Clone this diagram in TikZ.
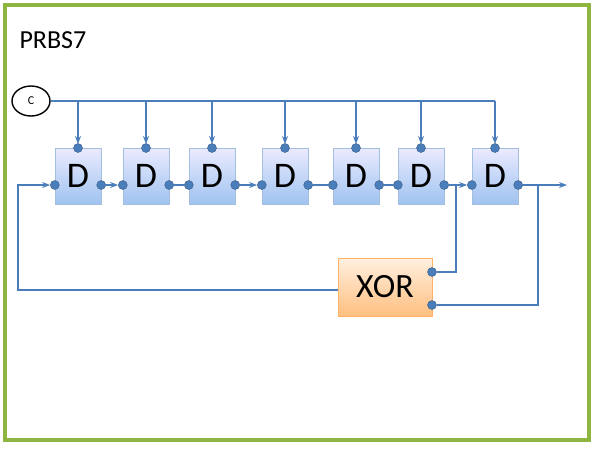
\documentclass[tikz,border=0pt]{standalone}
\usepackage{fontspec}
\setmainfont{Carlito}
\usetikzlibrary{arrows.meta,shapes.geometric}
\definecolor{ln}{HTML}{4A7EBB}
\definecolor{frm}{HTML}{8DB53F}
\begin{document}
\begin{tikzpicture}[x=1pt,y=-1pt,
 dbox/.style={draw=ln!50,top color=blue!8!white,bottom color={rgb,255:red,160;green,195;blue,240},minimum width=46pt,minimum height=56pt,inner sep=0,font=\fontsize{36}{36}\selectfont},
 pin/.style={circle,fill=ln,draw=ln!70!black,inner sep=0,minimum size=9pt},
 wire/.style={draw=ln,line width=2pt},
 arr/.style={wire,-{Stealth[length=8pt]}}]
\useasboundingbox (0,0) rectangle (600,448);
\draw[draw=frm,line width=4pt] (5,5) rectangle (589,440);
\node[font=\fontsize{26}{26}\selectfont,anchor=west] (t) at (16,40) {PRBS7};
\node[draw,ellipse,line width=1.4pt,minimum width=38pt,minimum height=30pt,inner sep=0,font=\fontsize{12}{12}\selectfont] (c) at (31,101) {C};
\foreach \i/\x in {1/78,2/146,3/212,4/285,5/356,6/421,7/495}{
 \node[dbox] (d\i) at (\x,176) {D};
 \draw[arr] (\x,101) -- (\x,144);
 \node[pin] (t\i) at (\x,148) {};
 \node[pin] (l\i) at (d\i.west |- 0,185) {};
 \node[pin] (r\i) at (d\i.east |- 0,185) {};
}
\draw[wire] (c.east) -- (495,101);
\node[draw=orange!60,top color=orange!12,bottom color=orange!50,minimum width=94pt,minimum height=58pt,font=\fontsize{34}{34}\selectfont] (x) at (385,287) {XOR};
\node[pin] (x1) at (432,272) {};
\node[pin] (x2) at (432,305) {};
\coordinate (a) at (18,290);
\draw[arr] (x.west |- 0,290) -- (a) -- (18,185) -- (l1);
\draw[arr] (r1) -- (l2);
\draw[wire] (r2) -- (l3);
\draw[arr] (r3) -- (l4);
\draw[wire] (r4) -- (l5);
\draw[wire] (r5) -- (l6);
\draw[arr] (r6) -- (l7);
\draw[arr] (r7) -- (567,185);
\draw[wire] (456,185) -- (456,272) -- (x1);
\draw[wire] (538,185) -- (538,305) -- (x2);
\end{tikzpicture}
\end{document}
